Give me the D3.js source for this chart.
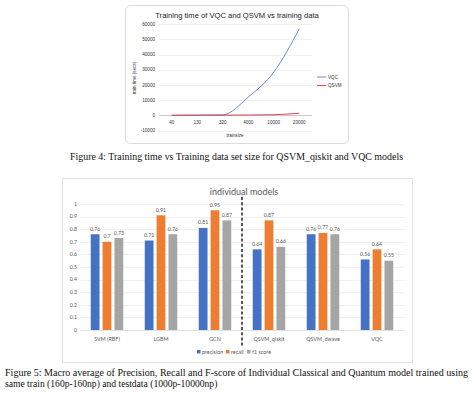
<!DOCTYPE html>
<html lang="en">
<head>
<meta charset="UTF-8">
<title>Training time and model scores</title>
<script src="https://cdnjs.cloudflare.com/ajax/libs/d3/7.8.5/d3.min.js"></script>
<style>
  body { margin: 0; background: #fff; }
  svg { display: block; }
</style>
</head>
<body>
<div id="draw-here"></div>
<script>
/* global d3 */

// ---- data: training time (figure 4)
var trainSizes = ["40", "130", "320", "4000", "10000", "20000"];
var vqcTimes = [50, 150, 300, 12000, 28500, 57000];
var qsvmTimes = [10, 50, 100, 200, 400, 1400];
var timeTicks = [-10000, 0, 10000, 20000, 30000, 40000, 50000, 60000];

// ---- data: individual models (figure 5)
var models = ["SVM (RBF)", "LGBM", "GCN", "QSVM_qiskit", "QSVM_dwave", "VQC"];
var precision = [0.76, 0.71, 0.81, 0.64, 0.76, 0.56];
var recall = [0.7, 0.91, 0.95, 0.87, 0.77, 0.64];
var f1score = [0.73, 0.76, 0.87, 0.66, 0.76, 0.55];
var metricNames = ["precision", "recall", "f1 score"];
var scoreTicks = [0, 0.1, 0.2, 0.3, 0.4, 0.5, 0.6, 0.7, 0.8, 0.9, 1];

var W = 474, H = 395;
var svg = d3.select("#draw-here").append("svg")
    .attr("width", W).attr("height", H);

var sans = "'Liberation Sans', Arial, sans-serif";
var serif = "'Liberation Serif', 'Times New Roman', serif";
var cal = "Lato, 'Open Sans', sans-serif";

// ================= time chart =================
var timeChart = svg.append("g");

timeChart.append("rect")
    .attr("x", 125.5).attr("y", 5.5)
    .attr("width", 223).attr("height", 138)
    .attr("rx", 5)
    .attr("fill", "#fff").attr("stroke", "#dcdcdc");

timeChart.append("text")
    .attr("x", 237).attr("y", 17.5)
    .attr("text-anchor", "middle")
    .attr("font-family", sans).attr("font-size", 7.6)
    .attr("fill", "#222")
    .text("Training time of VQC and QSVM vs training data");

var tx = d3.scaleBand().domain(trainSizes).range([159, 312]);
var ty = d3.scaleLinear().domain([-10000, 60000]).range([130.5, 24.3]);

// gridlines
timeChart.append("g").selectAll("line").data(timeTicks).enter().append("line")
    .attr("x1", 159).attr("x2", 312)
    .attr("y1", function(d) { return Math.round(ty(d)) + 0.5; })
    .attr("y2", function(d) { return Math.round(ty(d)) + 0.5; })
    .attr("stroke", function(d) { return d === 0 ? "#bbb" : "#ececec"; })
    .attr("stroke-width", 0.8);

// y tick labels
timeChart.append("g").selectAll("text").data(timeTicks).enter().append("text")
    .attr("x", 155)
    .attr("y", function(d) { return ty(d) + 1.6; })
    .attr("text-anchor", "end")
    .attr("font-family", sans).attr("font-size", 4.6)
    .attr("fill", "#333")
    .text(function(d) { return d; });

// x tick labels
timeChart.append("g").selectAll("text").data(trainSizes).enter().append("text")
    .attr("x", function(d) { return tx(d) + tx.bandwidth() / 2; })
    .attr("y", 123.5)
    .attr("text-anchor", "middle")
    .attr("font-family", sans).attr("font-size", 4.6)
    .attr("fill", "#333")
    .text(function(d) { return d; });

timeChart.append("text")
    .attr("x", 235).attr("y", 137)
    .attr("text-anchor", "middle")
    .attr("font-family", sans).attr("font-size", 4.6)
    .attr("fill", "#333")
    .text("trainsize");

timeChart.append("text")
    .attr("transform", "translate(135.5,78) rotate(-90)")
    .attr("text-anchor", "middle")
    .attr("font-family", sans).attr("font-size", 4.6)
    .attr("fill", "#333")
    .text("train time (secs)");

var timeLine = d3.line()
    .x(function(d, i) { return tx(trainSizes[i]) + tx.bandwidth() / 2; })
    .y(function(d) { return ty(d); })
    .curve(d3.curveMonotoneX);

var timeSeries = [
    { name: "VQC", values: vqcTimes, color: "#6a8ad8" },
    { name: "QSVM", values: qsvmTimes, color: "#e0464f" }
];

timeChart.append("g").selectAll("path").data(timeSeries).enter().append("path")
    .attr("d", function(s) { return timeLine(s.values); })
    .attr("fill", "none")
    .attr("stroke", function(s) { return s.color; })
    .attr("stroke-width", 1);

var tleg = timeChart.append("g").selectAll("g").data(timeSeries).enter().append("g")
    .attr("transform", function(d, i) { return "translate(317," + (77 + i * 8.5) + ")"; });
tleg.append("line")
    .attr("x1", 0).attr("x2", 9).attr("y1", 0).attr("y2", 0)
    .attr("stroke", function(d) { return d.color; }).attr("stroke-width", 1);
tleg.append("text")
    .attr("x", 11).attr("y", 1.6)
    .attr("font-family", sans).attr("font-size", 4.6)
    .attr("fill", "#333")
    .text(function(d) { return d.name; });

// caption 4
svg.append("text")
    .attr("x", 70).attr("y", 160)
    .attr("textLength", 333).attr("lengthAdjust", "spacingAndGlyphs")
    .attr("font-family", serif).attr("font-size", 9.6)
    .attr("fill", "#111")
    .text("Figure 4: Training time vs Training data set size for QSVM_qiskit and VQC models");

// ================= bar chart =================
var bars = svg.append("g");

bars.append("rect")
    .attr("x", 62.5).attr("y", 178.5)
    .attr("width", 350).attr("height", 184)
    .attr("fill", "#fff").attr("stroke", "#e2e2e2");

bars.append("text")
    .attr("x", 244).attr("y", 194.5)
    .attr("text-anchor", "middle")
    .attr("font-family", cal).attr("font-size", 9)
    .attr("fill", "#595959")
    .text("individual models");

var bx = d3.scaleBand().domain(models).range([80, 404]);
var bx1 = d3.scaleBand().domain(metricNames).range([0, 32.5]).paddingInner(0.26);
var by = d3.scaleLinear().domain([0, 1]).range([330, 204]);
var barColors = d3.scaleOrdinal().domain(metricNames).range(["#4472c4", "#ed7d31", "#a5a5a5"]);

bars.append("g").selectAll("line").data(scoreTicks).enter().append("line")
    .attr("x1", 80).attr("x2", 404)
    .attr("y1", function(d) { return Math.round(by(d)) + 0.5; })
    .attr("y2", function(d) { return Math.round(by(d)) + 0.5; })
    .attr("stroke", function(d) { return d === 0 ? "#d9d9d9" : "#ececec"; })
    .attr("stroke-width", 0.8);

bars.append("g").selectAll("text").data(scoreTicks).enter().append("text")
    .attr("x", 77)
    .attr("y", function(d) { return by(d) + 1.8; })
    .attr("text-anchor", "end")
    .attr("font-family", cal).attr("font-size", 5.2)
    .attr("fill", "#595959")
    .text(function(d) { return d3.format("~g")(d); });

var rows = models.map(function(m, i) {
    return { model: m, vals: [precision[i], recall[i], f1score[i]] };
});

var groups = bars.append("g").selectAll("g").data(rows).enter().append("g")
    .attr("transform", function(d) {
        return "translate(" + (bx(d.model) + (bx.bandwidth() - 32.5) / 2) + ",0)";
    });

groups.selectAll("rect").data(function(d) {
    return d.vals.map(function(v, j) { return { key: metricNames[j], value: v }; });
}).enter().append("rect")
    .attr("x", function(d) { return bx1(d.key); })
    .attr("y", function(d) { return by(d.value); })
    .attr("width", bx1.bandwidth())
    .attr("height", function(d) { return by(0) - by(d.value); })
    .attr("fill", function(d) { return barColors(d.key); });

groups.selectAll("text").data(function(d) {
    return d.vals.map(function(v, j) { return { key: metricNames[j], value: v }; });
}).enter().append("text")
    .attr("x", function(d) { return bx1(d.key) + bx1.bandwidth() / 2; })
    .attr("y", function(d) { return by(d.value) - 3.5; })
    .attr("text-anchor", "middle")
    .attr("font-family", cal).attr("font-size", 5.2)
    .attr("fill", "#595959")
    .text(function(d) { return d.value; });

bars.append("g").selectAll("text").data(models).enter().append("text")
    .attr("x", function(d) { return bx(d) + bx.bandwidth() / 2; })
    .attr("y", 341)
    .attr("text-anchor", "middle")
    .attr("font-family", cal).attr("font-size", 5.4)
    .attr("fill", "#595959")
    .text(function(d) { return d; });

// divider between classical and quantum models
bars.append("line")
    .attr("x1", bx("QSVM_qiskit")).attr("x2", bx("QSVM_qiskit"))
    .attr("y1", 197).attr("y2", 346)
    .attr("stroke", "#111").attr("stroke-width", 1.4)
    .attr("stroke-dasharray", "3,2.2");

// legend
var legX = [197, 226, 247];
var bleg = bars.append("g").selectAll("g").data(metricNames).enter().append("g")
    .attr("transform", function(d, i) { return "translate(" + legX[i] + ",352)"; });
bleg.append("rect")
    .attr("x", 0).attr("y", -2).attr("width", 3.5).attr("height", 3.5)
    .attr("fill", function(d) { return barColors(d); });
bleg.append("text")
    .attr("x", 5).attr("y", 1.8)
    .attr("font-family", cal).attr("font-size", 5.4)
    .attr("fill", "#595959")
    .text(function(d) { return d; });

// caption 5
svg.append("text")
    .attr("x", 5).attr("y", 376)
    .attr("textLength", 463).attr("lengthAdjust", "spacingAndGlyphs")
    .attr("font-family", serif).attr("font-size", 9.6)
    .attr("fill", "#111")
    .text("Figure 5: Macro average of Precision, Recall and F-score of Individual Classical and Quantum model trained using");
svg.append("text")
    .attr("x", 5).attr("y", 386.5)
    .attr("font-family", serif).attr("font-size", 9.6)
    .attr("fill", "#111")
    .text("same train (160p-160np) and testdata (1000p-10000np)");
</script>
</body>
</html>
